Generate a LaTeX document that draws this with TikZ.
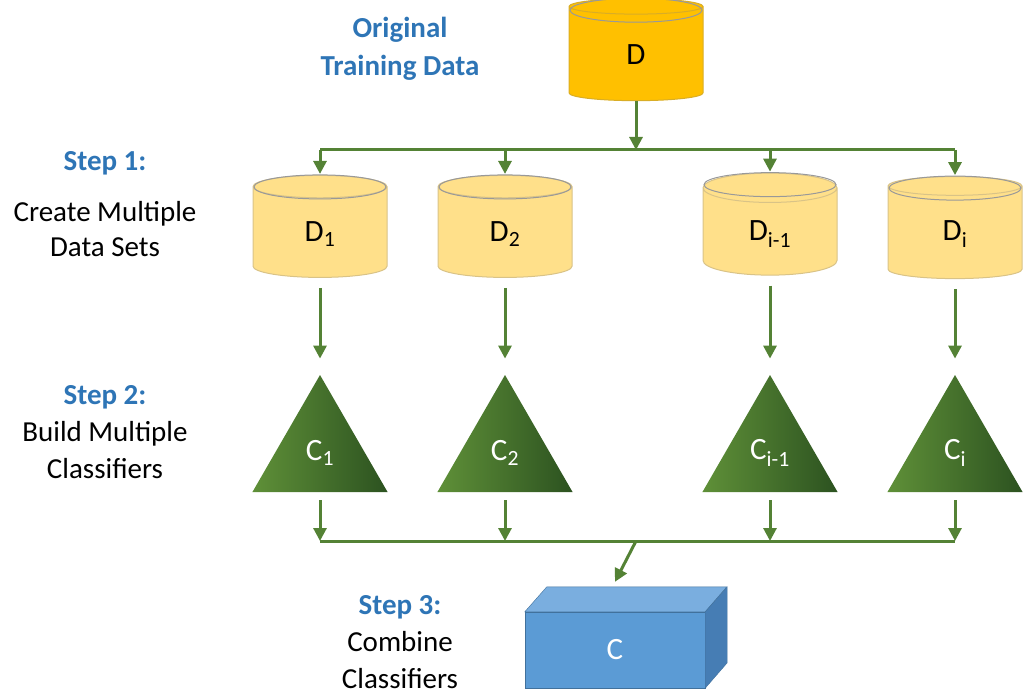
\documentclass[tikz,border=0pt]{standalone}
\usepackage{fontspec}
\setmainfont{Carlito}
\usetikzlibrary{shapes.geometric,arrows.meta}
\definecolor{flow}{HTML}{548235}
\definecolor{stepblue}{HTML}{2E75B6}
\definecolor{dbdark}{HTML}{FFC000}
\definecolor{dblight}{HTML}{FFE08A}
\definecolor{boxfront}{HTML}{5B9BD5}
\definecolor{boxtop}{HTML}{7AAEDF}
\definecolor{boxside}{HTML}{467DB4}
\definecolor{boxedge}{HTML}{41719C}
\definecolor{clflight}{HTML}{5F9038}
\definecolor{clfdark}{HTML}{2C5220}
\tikzset{
  db/.style={cylinder,shape border rotate=90,aspect=0.6,draw=#1!70!gray,line width=1pt,
    minimum width=134pt,minimum height=102pt,fill=#1,font=\fontsize{31}{36}\selectfont},
  clf/.style={regular polygon,regular polygon sides=3,minimum size=156pt,inner sep=0pt,
    left color=clflight,right color=clfdark,draw=none,
    text=white,font=\fontsize{31}{36}\selectfont},
  flowarrow/.style={draw=flow,line width=3pt,-{Triangle[length=13pt,width=13pt]}},
  flowline/.style={draw=flow,line width=3pt},
  steplabel/.style={align=center,font=\fontsize{29}{37}\selectfont}
}
\begin{document}
\begin{tikzpicture}[x=1pt,y=-1pt]
\useasboundingbox (0,0) rectangle (1025,692);
% labels
\node[steplabel,text=stepblue,font=\bfseries\fontsize{29}{38}\selectfont] (orig) at (400,49) {Original\\Training Data};
\node[steplabel] (s1) at (105,204) {\textcolor{stepblue}{\bfseries Step 1:}\\[14pt]Create Multiple\\[-2pt]Data Sets};
\node[steplabel] (s2) at (105,432) {\textcolor{stepblue}{\bfseries Step 2:}\\Build Multiple\\Classifiers};
\node[steplabel] (s3) at (400,642) {\textcolor{stepblue}{\bfseries Step 3:}\\Combine\\Classifiers};
% data sets
\node[db=dbdark] (D) at (636,55) {D};
\foreach \n/\x/\t in {d1/320/D\textsubscript{1},d2/505/D\textsubscript{2},d3/770/D\textsubscript{i-1},d4/955/D\textsubscript{i}}
  \node[db=dblight] (\n) at (\x,234) {\t};
\foreach \n in {D,d1,d2,d3,d4}
  \draw[draw=gray!80,line width=1pt] ([yshift=-12pt]\n.top) ellipse (66 and 12);
% classifiers
\foreach \n/\x/\t in {c1/320/C\textsubscript{1},c2/505/C\textsubscript{2},c3/770/C\textsubscript{i-1},c4/955/C\textsubscript{i}}
  \node[clf] (\n) at (\x,453) {\raisebox{-12pt}{\t}};
% combined classifier
\node[fill=boxfront,draw=boxedge,minimum width=180pt,minimum height=76pt,
  text=white,font=\fontsize{31}{36}\selectfont] (C) at (615,650) {C};
\filldraw[fill=boxtop,draw=boxedge]
  (C.north west) -- ++(22,-25) -- ++(180,0) -- (C.north east) -- cycle;
\filldraw[fill=boxside,draw=boxedge]
  (C.north east) -- ++(22,-25) -- ++(0,76) -- (C.south east) -- cycle;
% connectors
\coordinate (top) at (636,150);
\coordinate (bot) at (636,541);
\draw[flowarrow] (D.bottom) -- (top);
\draw[flowline] (d1.top |- top) -- (d4.top |- top);
\foreach \n in {1,...,4} {
  \draw[flowarrow] (d\n.top |- top) -- ([yshift=1pt]d\n.top);
  \draw[flowarrow] ([yshift=-10pt]d\n.bottom) -- ([yshift=16pt]c\n.corner 1);
  \draw[flowarrow] ([yshift=-8pt]c\n.corner 1 |- c\n.corner 2) -- (c\n.corner 1 |- bot);
}
\draw[flowline] (c1.corner 1 |- bot) -- (c4.corner 1 |- bot);
\draw[flowarrow] (bot) -- ([yshift=30pt]C.north);
\end{tikzpicture}
\end{document}
